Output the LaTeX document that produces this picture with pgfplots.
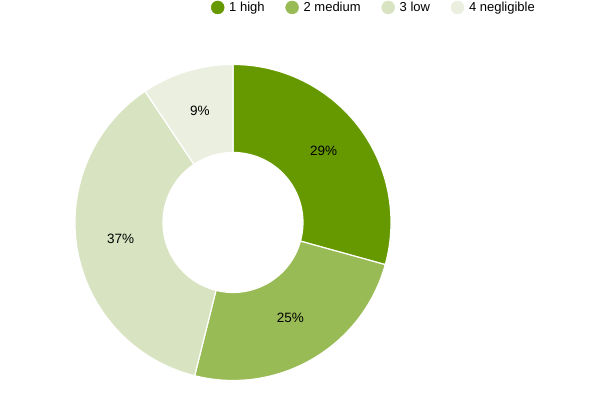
\documentclass[border=0pt]{standalone}
\usepackage{pgfplots}
\pgfplotsset{compat=1.18}
\usepackage{pgfplotstable}
\usepackage{fontspec}
\setmainfont{Liberation Sans}
\definecolor{col0}{HTML}{669900}
\definecolor{col1}{HTML}{99BB55}
\definecolor{col2}{HTML}{D8E4C1}
\definecolor{col3}{HTML}{EBEFDF}
\pgfplotstableread{
label val
high 29.3
medium 24.6
low 36.7
negligible 9.4
}\data
\begin{document}
\begin{tikzpicture}
\begin{axis}[
  scale only axis, width=600bp, height=400bp,
  xmin=0, xmax=600, ymin=0, ymax=400,
  hide axis, clip=false,
  legend columns=4,
  legend style={at={(axis cs:374,393)}, anchor=center, draw=none, fill=none,
    font=\fontsize{13bp}{15bp}\selectfont, inner sep=0pt,
    /tikz/every odd column/.append style={column sep=3bp},
    /tikz/every even column/.append style={column sep=19bp}},
  legend cell align=left,
]
\path (axis cs:0,0) rectangle (axis cs:600,400);
\def\cum{0}
\pgfplotsforeachungrouped \i in {0,...,3}{%
  \pgfplotstablegetelem{\i}{val}\of\data
  \let\v\pgfplotsretval
  \pgfmathsetmacro\a{90-3.6*\cum}
  \pgfmathsetmacro\b{90-3.6*(\cum+\v)}
  \pgfmathsetmacro\m{(\a+\b)/2}
  \pgfmathsetmacro\bb{\b+180}
  \pgfmathsetmacro\cum{\cum+\v}
  \pgfmathtruncatemacro\pct{round(\v)}
  \edef\temp{\noexpand\filldraw[fill=col\i, draw=white, line width=1.2bp, line join=round]
    (axis cs:233,178) ++(\a:158bp) arc[start angle=\a, end angle=\b, radius=158bp]
    -- ++(\bb:88bp) arc[start angle=\b, end angle=\a, radius=70bp] -- cycle;
    \noexpand\node[font=\noexpand\fontsize{13.5bp}{15bp}\noexpand\selectfont]
    at (axis cs:233,181) [shift={(\m:114bp)}] {\pct\noexpand\%};}%
  \temp
}
\addlegendimage{only marks, mark=*, mark size=6.5bp, color=col0}
\addlegendentry{1 high}
\addlegendimage{only marks, mark=*, mark size=6.5bp, color=col1}
\addlegendentry{2 medium}
\addlegendimage{only marks, mark=*, mark size=6.5bp, color=col2}
\addlegendentry{3 low}
\addlegendimage{only marks, mark=*, mark size=6.5bp, color=col3}
\addlegendentry{4 negligible}
\end{axis}
\end{tikzpicture}
\end{document}
